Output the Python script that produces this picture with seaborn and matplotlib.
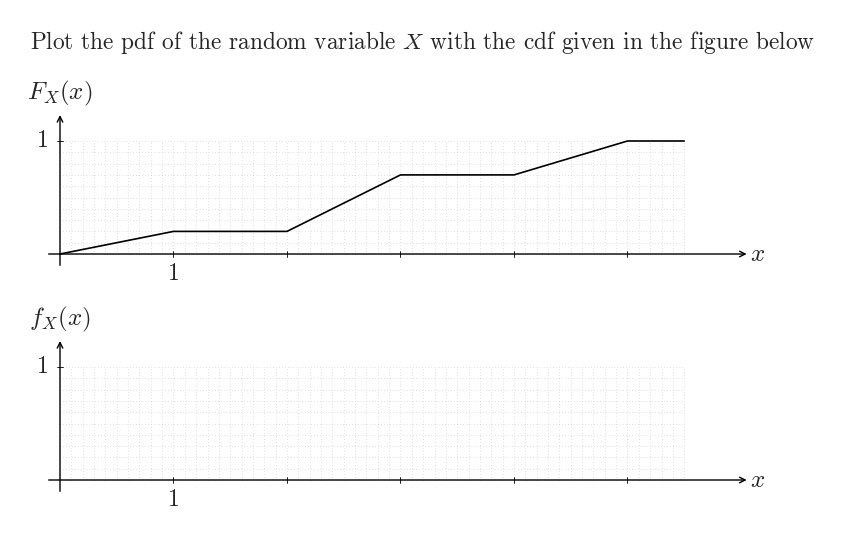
import numpy as np
import pandas as pd
import matplotlib
matplotlib.use("Agg")
import matplotlib.pyplot as plt
import seaborn as sns

# cdf: corner points of the piecewise linear F_X
cdf_x = [0, 1, 2, 3, 4, 5, 5.5]
cdf_y = [0, 0.2, 0.2, 0.7, 0.7, 1, 1]
x_ticks = [1, 2, 3, 4, 5]
x_tick_labels = ["1", "", "", "", ""]
y_ticks = [1]
y_tick_labels = ["1"]
title = "Plot the pdf of the random variable $X$ with the cdf given in the figure below"
panel_labels = ["$F_X(x)$", "$f_X(x)$"]

sns.set_style("white")
plt.rcParams["font.family"] = ["cmr10", "DejaVu Serif"]
plt.rcParams["mathtext.fontset"] = "cm"
plt.rcParams["axes.unicode_minus"] = False

W, H = 843, 534
fig = plt.figure(figsize=(W / 100, H / 100), dpi=100)

xlim = (-0.5, 6.8)
ylim = (-0.4, 1.3)
sx, sy = 113.5, 113.0


def make_axes(x0_px, y0_px):
    left = x0_px + xlim[0] * sx
    right = x0_px + xlim[1] * sx
    bottom = y0_px - ylim[0] * sy
    top = y0_px - ylim[1] * sy
    ax = fig.add_axes([left / W, 1 - bottom / H, (right - left) / W, (bottom - top) / H])
    ax.set_xlim(*xlim)
    ax.set_ylim(*ylim)
    ax.axis("off")
    return ax


def decorate(ax, label):
    # dotted helper grid on [0, 5.5] x [0, 1]
    gx = np.arange(0, 5.51, 0.1)
    gy = np.arange(0, 1.01, 0.1)
    ax.vlines(gx, 0, 1, colors="#c4c4c4", linestyles=(0, (0.5, 2.5)), lw=0.7, zorder=1)
    ax.hlines(gy, 0, 5.5, colors="#c4c4c4", linestyles=(0, (0.5, 2.5)), lw=0.7, zorder=1)
    # axes with arrows
    ax.annotate("", xy=(6.05, 0), xytext=(-0.1, 0),
                arrowprops=dict(arrowstyle="->", lw=1.0, color="black", shrinkA=0, shrinkB=0))
    ax.annotate("", xy=(0, 1.23), xytext=(0, -0.1),
                arrowprops=dict(arrowstyle="->", lw=1.0, color="black", shrinkA=0, shrinkB=0))
    for t, lab in zip(x_ticks, x_tick_labels):
        ax.plot([t, t], [-0.025, 0.025], color="black", lw=0.6)
        if lab:
            ax.text(t, -0.08, lab, ha="center", va="top", fontsize=17)
    for t, lab in zip(y_ticks, y_tick_labels):
        ax.plot([-0.025, 0.025], [t, t], color="black", lw=0.6)
        ax.text(-0.1, t, lab, ha="right", va="center", fontsize=17)
    ax.text(6.15, -0.01, "$x$", ha="center", va="center", fontsize=18)
    ax.text(0.0, 1.42, label, ha="center", va="center", fontsize=18)


ax1 = make_axes(60, 254)
decorate(ax1, panel_labels[0])
df = pd.DataFrame({"x": cdf_x, "F": cdf_y})
sns.lineplot(data=df, x="x", y="F", ax=ax1, color="black", lw=1.2, sort=False, zorder=3)
ax1.set_xlim(*xlim)
ax1.set_ylim(*ylim)
ax1.axis("off")

ax2 = make_axes(60, 480)
decorate(ax2, panel_labels[1])

fig.text(30 / W, 1 - 42 / H, title, ha="left", va="center", fontsize=16.8)

fig.savefig("out.png", dpi=100)
